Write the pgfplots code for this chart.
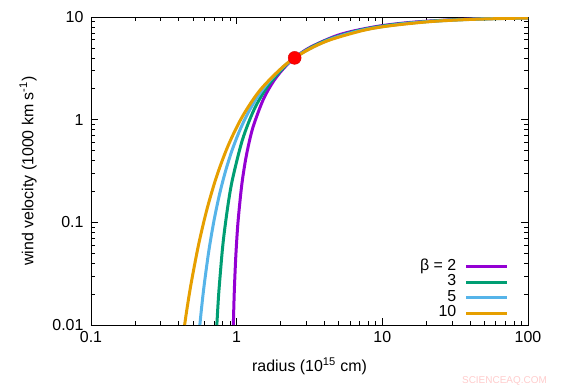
\documentclass[border=0pt]{standalone}
\usepackage{pgfplots}
\pgfplotsset{compat=1.18}
\usetikzlibrary{calc}
\usepackage{fontspec}
\setmainfont{Liberation Sans}
\definecolor{cA}{HTML}{9400D3}
\definecolor{cB}{HTML}{009E73}
\definecolor{cC}{HTML}{56B4E9}
\definecolor{cD}{HTML}{E69F00}
\begin{document}
\begin{tikzpicture}
\begin{axis}[
  xmode=log, ymode=log,
  scale only axis,
  width=437bp, height=308bp,
  xmin=0.1, xmax=100, ymin=0.01, ymax=10,
  xtick={0.1,1,10,100}, xticklabels={0.1,1,10,100},
  ytick={0.01,0.1,1,10}, yticklabels={0.01,0.1,1,10},
  tick align=inside,
  major tick length=7bp, minor tick length=4bp,
  every tick/.style={black, line width=0.6pt},
  axis line style={line width=0.8pt},
  tick label style={font=\fontsize{16}{18}\selectfont},
  xticklabel style={yshift=-3bp},
  yticklabel style={xshift=-4bp},
  label style={font=\fontsize{16}{18}\selectfont},
  xlabel={radius (10\textsuperscript{15} cm)},
  ylabel={wind velocity (1000 km s\textsuperscript{-1})},
  xlabel style={yshift=-8bp},
  ylabel style={yshift=9bp},
  legend style={at={(1,0)}, anchor=south east, xshift=-18bp, yshift=3bp,
    draw=none, fill=none, font=\fontsize{16}{18}\selectfont,
    row sep=0bp, inner sep=1bp,
    nodes={text height=11bp, text depth=3.5bp, inner sep=0.5bp}},
  legend cell align=right,
  legend plot pos=right,
  legend image code/.code={\path (0bp,0bp); \draw[#1] (8bp,0bp) -- (49bp,0bp);},
  clip=true,
]
\addplot[cA, line width=3bp, smooth] coordinates {
(0.949,0.01) (0.9573,0.016) (0.9674,0.025) (0.9882,0.049) (1.0211,0.1)
(1.0812,0.225) (1.1488,0.4) (1.2253,0.625) (1.3129,0.9) (1.5317,1.6)
(1.838,2.5) (2.2975,3.6) (3.0633,4.9) (4.595,6.4) (6.1267,7.225)
(9.19,8.1) (13.129,8.649) (18.38,9.025) (30.633,9.409) (45.95,9.604)
(91.9,9.801) (100,9.817)};
\addlegendentry{β = 2}
\addplot[cB, line width=3bp, smooth] coordinates {
(0.7311,0.01) (0.7435,0.01521) (0.7563,0.02197) (0.7928,0.04913) (0.8225,0.08)
(0.8773,0.15625) (0.94,0.27) (1.0967,0.64) (1.316,1.25) (1.645,2.16)
(2.1933,3.43) (2.632,4.219) (3.29,5.12) (4.3867,6.141) (6.58,7.29)
(9.4,8.044) (13.16,8.574) (21.933,9.127) (32.9,9.412) (65.8,9.703)
(100,9.804)};
\addlegendentry{3}
\addplot[cC, line width=3bp, smooth] coordinates {
(0.5589,0.01) (0.5733,0.01435) (0.5979,0.0243) (0.6438,0.05252) (0.6975,0.1024)
(0.7609,0.1845) (0.837,0.3125) (0.93,0.5033) (1.0463,0.7776) (1.1957,1.1603)
(1.395,1.6807) (1.674,2.373) (2.0925,3.2768) (2.79,4.437) (4.185,5.905)
(5.9786,6.957) (8.37,7.738) (13.95,8.587) (20.925,9.039) (41.85,9.510)
(100,9.793)};
\addlegendentry{5}
\addplot[cD, line width=3bp, smooth] coordinates {
(0.4391,0.01) (0.45625,0.014456) (0.4867,0.02533) (0.5475,0.06047) (0.6257,0.1346)
(0.73,0.2825) (0.876,0.5631) (1.095,1.0737) (1.46,1.9687) (2.19,3.4868)
(3.1286,4.840) (4.38,5.987) (7.3,7.374) (10.95,8.171) (21.9,9.044)
(43.8,9.511) (100,9.783)};
\addlegendentry{10}
\addplot[only marks, mark=*, mark size=6.5bp, color=red, mark options={fill=red, draw=red!85!black, line width=0.4pt}, forget plot] coordinates {(2.5,4.0)};
\end{axis}
\pgfresetboundingbox
\path (current axis.south west) ++(-91bp,-63bp) rectangle ++(562bp,388bp);
\node[anchor=base east, text=red!20, font=\fontsize{10}{12}\selectfont, inner sep=0pt] at ($(current axis.south west)+(456bp,-58bp)$) {SCIENCEAQ.COM};
\end{tikzpicture}
\end{document}
